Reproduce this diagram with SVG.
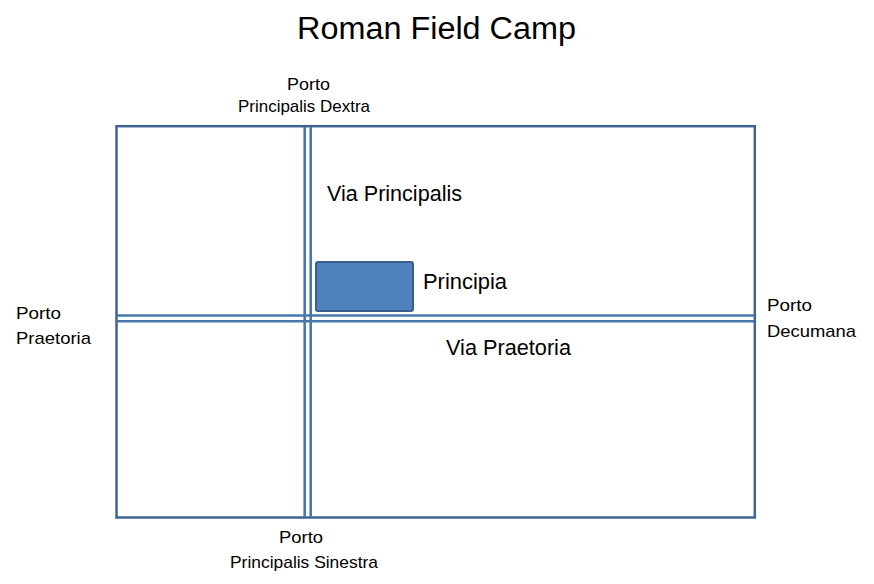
<svg xmlns="http://www.w3.org/2000/svg" width="874" height="584" viewBox="0 0 874 584">
<style>
text{font-family:"Liberation Sans",Arial,sans-serif;fill:#000}
.t{font-size:31px}
.m{font-size:21.5px}
.s{font-size:17px}
.frame{fill:none;stroke:#3f6494;stroke-width:2.5}
.road{stroke:#4a78ac;stroke-width:2.6;fill:none}
.hq{fill:#4f81bd;stroke:#3b5f8c;stroke-width:2}
</style>
<rect x="0" y="0" width="874" height="584" fill="#fff"/>
<g id="title"><text class="t" x="297" y="39" textLength="279" lengthAdjust="spacingAndGlyphs">Roman Field Camp</text></g>
<g id="camp"><rect class="frame" x="116.5" y="126.2" width="638.3" height="391.3"/></g>
<g id="roads">
<line class="road" x1="304.7" y1="127" x2="304.7" y2="517"/>
<line class="road" x1="310.7" y1="127" x2="310.7" y2="517"/>
<line class="road" x1="117" y1="315.5" x2="754" y2="315.5"/>
<line class="road" x1="117" y1="321.3" x2="754" y2="321.3"/>
</g>
<g id="principia"><rect class="hq" x="316" y="262" width="97" height="49" rx="2"/>
<text class="m" x="423" y="289" textLength="84" lengthAdjust="spacingAndGlyphs">Principia</text></g>
<g id="via-principalis"><text class="m" x="327" y="201" textLength="135" lengthAdjust="spacingAndGlyphs">Via Principalis</text></g>
<g id="via-praetoria"><text class="m" x="446" y="355" textLength="125" lengthAdjust="spacingAndGlyphs">Via Praetoria</text></g>
<g id="porto-dextra"><text class="s" x="287" y="90" textLength="43" lengthAdjust="spacingAndGlyphs">Porto</text>
<text class="s" x="238" y="112" textLength="132" lengthAdjust="spacingAndGlyphs">Principalis Dextra</text></g>
<g id="porto-praetoria"><text class="s" x="16" y="319" textLength="45" lengthAdjust="spacingAndGlyphs">Porto</text>
<text class="s" x="16" y="344" textLength="75" lengthAdjust="spacingAndGlyphs">Praetoria</text></g>
<g id="porto-decumana"><text class="s" x="767" y="311" textLength="45" lengthAdjust="spacingAndGlyphs">Porto</text>
<text class="s" x="767" y="337" textLength="89" lengthAdjust="spacingAndGlyphs">Decumana</text></g>
<g id="porto-sinestra"><text class="s" x="279" y="543" textLength="44" lengthAdjust="spacingAndGlyphs">Porto</text>
<text class="s" x="230" y="568" textLength="148" lengthAdjust="spacingAndGlyphs">Principalis Sinestra</text></g>
</svg>
